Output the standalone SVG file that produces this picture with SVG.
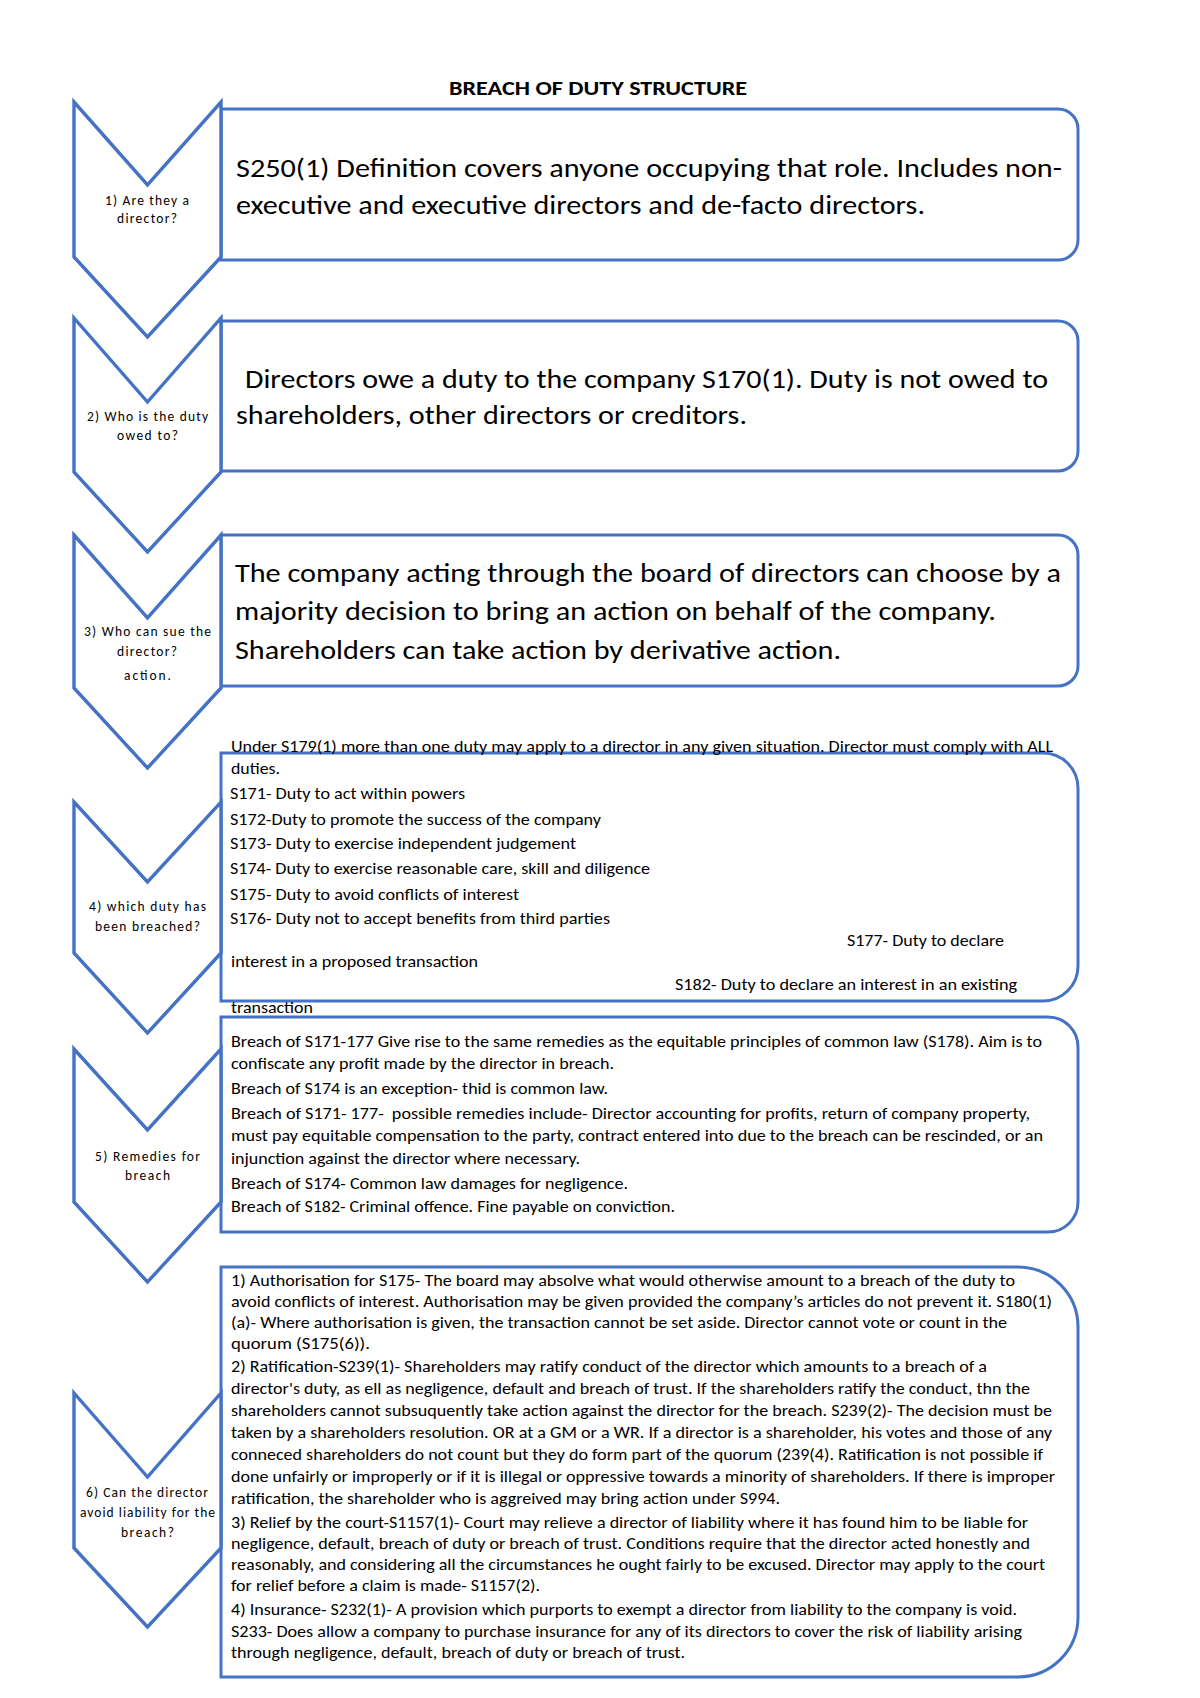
<svg xmlns="http://www.w3.org/2000/svg" width="1200" height="1698" viewBox="0 0 1200 1698">
<style>
.chev{fill:#ffffff;stroke:#4472C4;stroke-width:3.4;stroke-linejoin:miter}
.box{fill:#ffffff;stroke:#4472C4;stroke-width:3}
.lbl{font-family:Carlito,'Liberation Sans',Arial,sans-serif;font-size:13.5px;fill:#000}
.big{font-family:Carlito,'Liberation Sans',Arial,sans-serif;font-size:27px;fill:#000}
.sm{font-family:Carlito,'Liberation Sans',Arial,sans-serif;font-size:16px;fill:#000}
.title{font-family:Carlito,'Liberation Sans',Arial,sans-serif;font-size:20px;font-weight:bold;fill:#000}
</style>
<rect width="1200" height="1698" fill="#ffffff"/>
<text class="title" x="449" y="95" textLength="298" lengthAdjust="spacingAndGlyphs">BREACH OF DUTY STRUCTURE</text>
<g id="connectors"/>

<g id="box1">
<path class="box" d="M221,109 H1058 A20,20 0 0 1 1078,129 V240 A20,20 0 0 1 1058,260 H221 Z"/>
<text class="big" x="236" y="177" textLength="826" lengthAdjust="spacingAndGlyphs">S250(1) Definition covers anyone occupying that role. Includes non-</text>
<text class="big" x="236" y="214" textLength="689" lengthAdjust="spacingAndGlyphs">executive and executive directors and de-facto directors.</text>
</g>
<g id="box2">
<path class="box" d="M221,321 H1058 A20,20 0 0 1 1078,341 V451 A20,20 0 0 1 1058,471 H221 Z"/>
<text class="big" x="245" y="388" textLength="803" lengthAdjust="spacingAndGlyphs">Directors owe a duty to the company S170(1). Duty is not owed to</text>
<text class="big" x="236" y="424" textLength="511" lengthAdjust="spacingAndGlyphs">shareholders, other directors or creditors.</text>
</g>
<g id="box3">
<path class="box" d="M221,535 H1058 A20,20 0 0 1 1078,555 V666 A20,20 0 0 1 1058,686 H221 Z"/>
<text class="big" x="235" y="582" textLength="826" lengthAdjust="spacingAndGlyphs">The company acting through the board of directors can choose by a</text>
<text class="big" x="235" y="620" textLength="761" lengthAdjust="spacingAndGlyphs">majority decision to bring an action on behalf of the company.</text>
<text class="big" x="235" y="659" textLength="606" lengthAdjust="spacingAndGlyphs">Shareholders can take action by derivative action.</text>
</g>
<g id="box4">
<path class="box" d="M221,753 H1043 A35,35 0 0 1 1078,788 V966 A35,35 0 0 1 1043,1001 H221 Z"/>
<text class="sm" x="231" y="752" textLength="822" lengthAdjust="spacingAndGlyphs">Under S179(1) more than one duty may apply to a director in any given situation. Director must comply with ALL</text>
<text class="sm" x="231" y="774" textLength="49" lengthAdjust="spacingAndGlyphs">duties.</text>
<text class="sm" x="230" y="799" textLength="235" lengthAdjust="spacingAndGlyphs">S171- Duty to act within powers</text>
<text class="sm" x="230" y="825" textLength="371" lengthAdjust="spacingAndGlyphs">S172-Duty to promote the success of the company</text>
<text class="sm" x="230" y="849" textLength="346" lengthAdjust="spacingAndGlyphs">S173- Duty to exercise independent judgement</text>
<text class="sm" x="230" y="874" textLength="420" lengthAdjust="spacingAndGlyphs">S174- Duty to exercise reasonable care, skill and diligence</text>
<text class="sm" x="230" y="900" textLength="289" lengthAdjust="spacingAndGlyphs">S175- Duty to avoid conflicts of interest</text>
<text class="sm" x="230" y="924" textLength="380" lengthAdjust="spacingAndGlyphs">S176- Duty not to accept benefits from third parties</text>
<text class="sm" x="847" y="946" textLength="157" lengthAdjust="spacingAndGlyphs">S177- Duty to declare</text>
<text class="sm" x="231" y="967" textLength="247" lengthAdjust="spacingAndGlyphs">interest in a proposed transaction</text>
<text class="sm" x="675" y="990" textLength="342" lengthAdjust="spacingAndGlyphs">S182- Duty to declare an interest in an existing</text>
<text class="sm" x="231" y="1013" textLength="82" lengthAdjust="spacingAndGlyphs">transaction</text>
</g>
<g id="box5">
<path class="box" d="M221,1017 H1048 A30,30 0 0 1 1078,1047 V1202 A30,30 0 0 1 1048,1232 H221 Z"/>
<text class="sm" x="231" y="1047" textLength="811" lengthAdjust="spacingAndGlyphs">Breach of S171-177 Give rise to the same remedies as the equitable principles of common law (S178). Aim is to</text>
<text class="sm" x="231" y="1069" textLength="383" lengthAdjust="spacingAndGlyphs">confiscate any profit made by the director in breach.</text>
<text class="sm" x="231" y="1094" textLength="377" lengthAdjust="spacingAndGlyphs">Breach of S174 is an exception- thid is common law.</text>
<text class="sm" x="231" y="1119" textLength="799" lengthAdjust="spacingAndGlyphs">Breach of S171- 177-&#160; possible remedies include- Director accounting for profits, return of company property,</text>
<text class="sm" x="231" y="1141" textLength="812" lengthAdjust="spacingAndGlyphs">must pay equitable compensation to the party, contract entered into due to the breach can be rescinded, or an</text>
<text class="sm" x="231" y="1164" textLength="349" lengthAdjust="spacingAndGlyphs">injunction against the director where necessary.</text>
<text class="sm" x="231" y="1189" textLength="397" lengthAdjust="spacingAndGlyphs">Breach of S174- Common law damages for negligence.</text>
<text class="sm" x="231" y="1212" textLength="444" lengthAdjust="spacingAndGlyphs">Breach of S182- Criminal offence. Fine payable on conviction.</text>
</g>
<g id="box6">
<path class="box" d="M221,1267 H1018 A60,60 0 0 1 1078,1327 V1617 A60,60 0 0 1 1018,1677 H221 Z"/>
<text class="sm" x="231" y="1286" textLength="784" lengthAdjust="spacingAndGlyphs">1) Authorisation for S175- The board may absolve what would otherwise amount to a breach of the duty to</text>
<text class="sm" x="231" y="1307" textLength="821" lengthAdjust="spacingAndGlyphs">avoid conflicts of interest. Authorisation may be given provided the company’s articles do not prevent it. S180(1)</text>
<text class="sm" x="231" y="1328" textLength="776" lengthAdjust="spacingAndGlyphs">(a)- Where authorisation is given, the transaction cannot be set aside. Director cannot vote or count in the</text>
<text class="sm" x="231" y="1349" textLength="139" lengthAdjust="spacingAndGlyphs">quorum (S175(6)).</text>
<text class="sm" x="231" y="1372" textLength="756" lengthAdjust="spacingAndGlyphs">2) Ratification-S239(1)- Shareholders may ratify conduct of the director which amounts to a breach of a</text>
<text class="sm" x="231" y="1394" textLength="799" lengthAdjust="spacingAndGlyphs">director's duty, as ell as negligence, default and breach of trust. If the shareholders ratify the conduct, thn the</text>
<text class="sm" x="231" y="1416" textLength="821" lengthAdjust="spacingAndGlyphs">shareholders cannot subsuquently take action against the director for the breach. S239(2)- The decision must be</text>
<text class="sm" x="231" y="1438" textLength="821" lengthAdjust="spacingAndGlyphs">taken by a shareholders resolution. OR at a GM or a WR. If a director is a shareholder, his votes and those of any</text>
<text class="sm" x="231" y="1460" textLength="812" lengthAdjust="spacingAndGlyphs">conneced shareholders do not count but they do form part of the quorum (239(4). Ratification is not possible if</text>
<text class="sm" x="231" y="1482" textLength="824" lengthAdjust="spacingAndGlyphs">done unfairly or improperly or if it is illegal or oppressive towards a minority of shareholders. If there is improper</text>
<text class="sm" x="231" y="1504" textLength="549" lengthAdjust="spacingAndGlyphs">ratification, the shareholder who is aggreived may bring action under S994.</text>
<text class="sm" x="231" y="1528" textLength="797" lengthAdjust="spacingAndGlyphs">3) Relief by the court-S1157(1)- Court may relieve a director of liability where it has found him to be liable for</text>
<text class="sm" x="231" y="1549" textLength="799" lengthAdjust="spacingAndGlyphs">negligence, default, breach of duty or breach of trust. Conditions require that the director acted honestly and</text>
<text class="sm" x="231" y="1570" textLength="814" lengthAdjust="spacingAndGlyphs">reasonably, and considering all the circumstances he ought fairly to be excused. Director may apply to the court</text>
<text class="sm" x="231" y="1591" textLength="309" lengthAdjust="spacingAndGlyphs">for relief before a claim is made- S1157(2).</text>
<text class="sm" x="231" y="1615" textLength="786" lengthAdjust="spacingAndGlyphs">4) Insurance- S232(1)- A provision which purports to exempt a director from liability to the company is void.</text>
<text class="sm" x="231" y="1637" textLength="791" lengthAdjust="spacingAndGlyphs">S233- Does allow a company to purchase insurance for any of its directors to cover the risk of liability arising</text>
<text class="sm" x="231" y="1658" textLength="454" lengthAdjust="spacingAndGlyphs">through negligence, default, breach of duty or breach of trust.</text>
</g>

<g id="step1">
<path class="chev" d="M74,102 L147.5,185 L221,102 V257 L147.5,337 L74,257 Z"/>
<text class="lbl" x="105" y="205" textLength="84" lengthAdjust="spacing">1) Are they a</text>
<text class="lbl" x="117" y="223" textLength="60" lengthAdjust="spacing">director?</text>
</g>
<g id="step2">
<path class="chev" d="M74,318 L147.5,402 L221,318 V472 L147.5,552 L74,472 Z"/>
<text class="lbl" x="87" y="421" textLength="121" lengthAdjust="spacing">2) Who is the duty</text>
<text class="lbl" x="117" y="440" textLength="61" lengthAdjust="spacing">owed to?</text>
</g>
<g id="step3">
<path class="chev" d="M74,535 L147.5,618 L221,535 V688 L147.5,768 L74,688 Z"/>
<text class="lbl" x="84" y="636" textLength="127" lengthAdjust="spacing">3) Who can sue the</text>
<text class="lbl" x="117" y="656" textLength="60" lengthAdjust="spacing">director?</text>
<text class="lbl" x="124" y="680" textLength="47" lengthAdjust="spacing">action.</text>
</g>
<g id="step4">
<path class="chev" d="M74,802 L147.5,882 L221,802 V953 L147.5,1033 L74,953 Z"/>
<text class="lbl" x="89" y="911" textLength="117" lengthAdjust="spacing">4) which duty has</text>
<text class="lbl" x="95" y="931" textLength="105" lengthAdjust="spacing">been breached?</text>
</g>
<g id="step5">
<path class="chev" d="M74,1049 L147.5,1130 L221,1049 V1202 L147.5,1282 L74,1202 Z"/>
<text class="lbl" x="95" y="1161" textLength="105" lengthAdjust="spacing">5) Remedies for</text>
<text class="lbl" x="125" y="1180" textLength="45" lengthAdjust="spacing">breach</text>
</g>
<g id="step6">
<path class="chev" d="M74,1393 L147.5,1477 L221,1393 V1548 L147.5,1627 L74,1548 Z"/>
<text class="lbl" x="86" y="1497" textLength="122" lengthAdjust="spacing">6) Can the director</text>
<text class="lbl" x="80" y="1517" textLength="135" lengthAdjust="spacing">avoid liability for the</text>
<text class="lbl" x="121" y="1537" textLength="53" lengthAdjust="spacing">breach?</text>
</g>
</svg>
